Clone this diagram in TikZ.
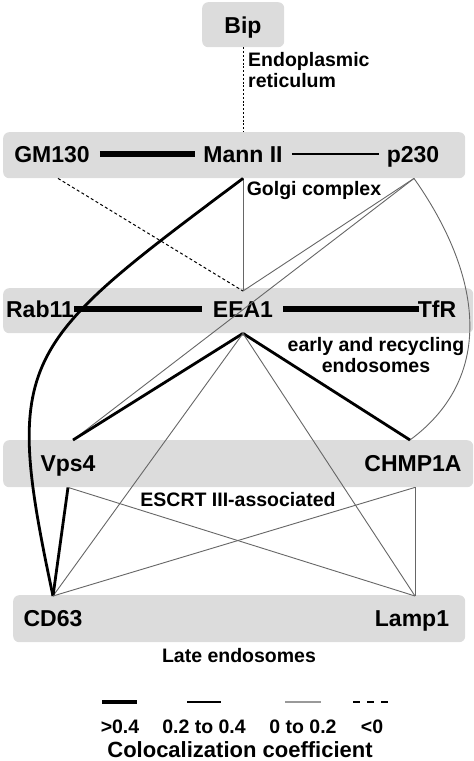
\documentclass[tikz,border=0pt]{standalone}
\usepackage{fontspec}
\setmainfont{Liberation Sans}
\begin{document}
\begin{tikzpicture}[x=1pt,y=-1pt,
  band/.style={fill=bandgray, draw=none, rounded corners=6pt, anchor=north west, inner sep=0pt},
  prot/.style={font=\fontsize{23}{26}\selectfont\bfseries, inner sep=0pt, text height=16.5pt, text depth=0pt},
  desc/.style={font=\fontsize{19.5}{20.5}\selectfont\bfseries, inner sep=0pt},
  strong/.style={line width=5.5pt},
  medium/.style={line width=2.8pt},
  weak/.style={line width=0.9pt, draw=black!60},
  negative/.style={line width=1pt, dash pattern=on 3pt off 2.5pt},
  negfine/.style={line width=1pt, dash pattern=on 2pt off 1.8pt}]
\definecolor{bandgray}{HTML}{DCDCDC}
\useasboundingbox (0,0) rectangle (474,761);

% bands
\node[band, minimum width=82pt, minimum height=45pt] (bipband) at (202,2) {};
\node[band, minimum width=462pt, minimum height=46pt] (golgiband) at (3,132) {};
\node[band, minimum width=470pt, minimum height=45pt] (eeband) at (3,288) {};
\node[band, minimum width=470pt, minimum height=47pt] (escrtband) at (3,440) {};
\node[band, minimum width=452pt, minimum height=47pt] (leband) at (13,595) {};

% protein labels
\node[prot] (bip) at (243,25) {Bip};
\node[prot] (gm) at (52,154) {GM130};
\node[prot] (mann) at (243,154) {Mann II};
\node[prot] (p230) at (413,154) {p230};
\node[prot] (rab) at (40,309) {Rab11};
\node[prot] (eea) at (243,309) {EEA1};
\node[prot] (tfr) at (437,309) {TfR};
\node[prot] (vps) at (68,463) {Vps4};
\node[prot] (chmp) at (413,463) {CHMP1A};
\node[prot] (cd) at (53,618) {CD63};
\node[prot] (lamp) at (412,618) {Lamp1};

% compartment labels
\node[desc, anchor=west, align=left] (er) at (248,70) {Endoplasmic\\reticulum};
\node[desc] (golgi) at (314,190) {Golgi complex};
\node[desc, align=center] (ee) at (376,355) {early and recycling\\endosomes};
\node[desc] (escrt) at (238,500) {ESCRT III-associated};
\node[desc] (le) at (239,656) {Late endosomes};

% connection points on band edges
\coordinate (bip-s) at (bip |- bipband.south);
\coordinate (mann-n) at (mann |- golgiband.north);
\coordinate (gm-s) at ([xshift=6pt]gm |- golgiband.south);
\coordinate (mann-s) at (mann |- golgiband.south);
\coordinate (p230-s) at ([xshift=1pt]p230 |- golgiband.south);
\coordinate (eea-n) at ([yshift=-3pt]eea |- eeband.north);
\coordinate (eea-s) at (eea |- eeband.south);
\coordinate (vps-n) at ([xshift=5pt]vps |- escrtband.north);
\coordinate (vps-s) at (vps |- escrtband.south);
\coordinate (chmp-n) at ([xshift=-3pt]chmp |- escrtband.north);
\coordinate (chmp-s) at ([xshift=2pt]chmp |- escrtband.south);
\coordinate (cd-n) at ([yshift=-1pt]cd |- leband.north);
\coordinate (lamp-n) at ([xshift=3pt,yshift=-1pt]lamp |- leband.north);

% horizontal links
\draw[strong] ([xshift=10pt]gm.east) -- ([xshift=-8pt]mann.west);
\draw[medium, line width=2.2pt] ([xshift=9pt]mann.east) -- ([xshift=-8pt]p230.west);
\draw[strong] (rab.east) -- ([xshift=-11pt]eea.west);
\draw[strong] ([xshift=10pt]eea.east) -- ([xshift=1pt]tfr.west);

% vertical / diagonal links
\draw[negfine] (bip-s) -- (mann-n);
\draw[negative] (gm-s) -- (eea-n);
\draw[weak] (mann-s) -- (eea-n);
\draw[weak] (p230-s) -- (eea-n);
\draw[weak] (p230-s) -- (vps-n);
\draw[weak] (p230-s) .. controls (480,272) and (498,375) .. (chmp-n);
\draw[medium] (mann-s) .. controls (19,346) and (2,357) .. (cd-n);

\draw[medium] (eea-s) -- (vps-n);
\draw[medium] (eea-s) -- (chmp-n);
\draw[weak] (eea-s) -- (cd-n);
\draw[weak] (eea-s) -- (lamp-n);

\draw[medium] (vps-s) -- (cd-n);
\draw[weak] (vps-s) -- (lamp-n);
\draw[weak] (chmp-s) -- (lamp-n);
\draw[weak] (chmp-s) -- (cd-n);

% legend
\coordinate (l1a) at (102,702); \coordinate (l1b) at (137,702);
\coordinate (l2a) at (187,702); \coordinate (l2b) at (221,702);
\coordinate (l3a) at (285,702); \coordinate (l3b) at (321,702);
\coordinate (l4a) at (353,702); \coordinate (l4b) at (390,702);
\draw[line width=4.8pt] (l1a) -- (l1b);
\draw[line width=2.8pt] (l2a) -- (l2b);
\draw[line width=1.8pt, draw=black!40] (l3a) -- (l3b);
\draw[line width=2pt, dash pattern=on 7pt off 7pt] (l4a) -- (l4b);
\node[desc] (k1) at (120,727) {>0.4};
\node[desc] (k2) at (204,727) {0.2 to 0.4};
\node[desc] (k3) at (303,727) {0 to 0.2};
\node[desc] (k4) at (372,727) {<0};
\node[desc, font=\fontsize{22}{24}\selectfont\bfseries] (title) at (240,750) {Colocalization coefficient};
\end{tikzpicture}
\end{document}
